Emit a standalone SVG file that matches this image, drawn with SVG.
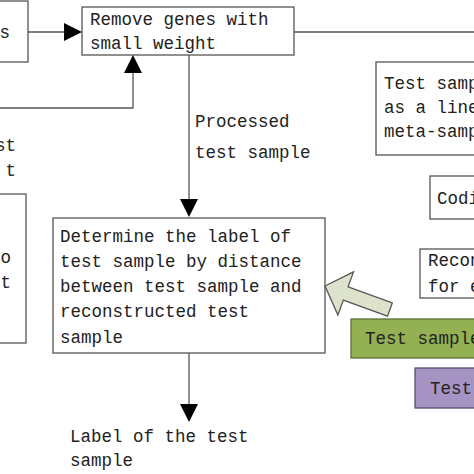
<svg xmlns="http://www.w3.org/2000/svg" width="474" height="474" viewBox="0 0 474 474">
<style>
.box{fill:#fff;stroke:#555;stroke-width:1.3}
.t{font-family:"Liberation Mono",monospace;font-size:17.5px;fill:#222}
.ln{fill:none;stroke:#555;stroke-width:1.3}
.ah{fill:#000}
</style>
<rect width="474" height="474" fill="#fff"/>
<g id="node-left-top">
<rect class="box" x="-10" y="1" width="38" height="61"/>
<text class="t" x="10" y="38" text-anchor="end">s</text>
</g>
<g id="node-remove">
<rect class="box" x="82" y="7" width="212" height="48"/>
<text class="t" x="90" y="25">Remove genes with</text>
<text class="t" x="90" y="49">small weight</text>
</g>
<g id="label-left-test">
<text class="t" x="16" y="151" text-anchor="end">st</text>
<text class="t" x="16" y="176" text-anchor="end">t</text>
</g>
<g id="node-left-mid">
<rect class="box" x="-10" y="194" width="36" height="149"/>
<text class="t" x="11" y="263" text-anchor="end">o</text>
<text class="t" x="11" y="288" text-anchor="end">t</text>
</g>
<g id="label-processed">
<text class="t" x="195" y="127">Processed</text>
<text class="t" x="195" y="158">test sample</text>
</g>
<g id="node-determine">
<rect class="box" x="53" y="218" width="272" height="135"/>
<text class="t" x="60" y="242">Determine the label of</text>
<text class="t" x="60" y="267">test sample by distance</text>
<text class="t" x="60" y="292">between test sample and</text>
<text class="t" x="60" y="317">reconstructed test</text>
<text class="t" x="60" y="343">sample</text>
</g>
<g id="label-output">
<text class="t" x="70" y="442">Label of the test</text>
<text class="t" x="70" y="466">sample</text>
</g>
<g id="node-linear">
<rect class="box" x="376" y="62" width="110" height="93"/>
<text class="t" x="384" y="89">Test sample</text>
<text class="t" x="384" y="113">as a linear</text>
<text class="t" x="384" y="137">meta-sample</text>
</g>
<g id="node-coding">
<rect class="box" x="430" y="176" width="60" height="43"/>
<text class="t" x="437" y="204">Coding</text>
</g>
<g id="node-recon">
<rect class="box" x="420" y="249" width="70" height="49"/>
<text class="t" x="428" y="266">Reconstruct</text>
<text class="t" x="428" y="292">for each</text>
</g>
<g id="node-green">
<rect x="351" y="319" width="140" height="39" fill="#93b152" stroke="#5d6f35" stroke-width="1.3"/>
<text class="t" x="365" y="344" fill="#1c2a0e">Test sample</text>
</g>
<g id="node-purple">
<rect x="415" y="368" width="80" height="40" fill="#a593c3" stroke="#55506a" stroke-width="1.3"/>
<text class="t" x="430" y="394">Test</text>
</g>
<g id="connectors">
<line class="ln" x1="28" y1="32" x2="66" y2="32"/>
<polygon class="ah" points="82,32 64,23 64,41"/>
<line class="ln" x1="294" y1="32" x2="474" y2="32"/>
<polyline class="ln" points="0,108 133,108 133,71"/>
<polygon class="ah" points="133,55 124,73 142,73"/>
<line class="ln" x1="189" y1="55" x2="189" y2="201"/>
<polygon class="ah" points="189,217 180,199 198,199"/>
<line class="ln" x1="189" y1="353" x2="189" y2="406"/>
<polygon class="ah" points="189,422 180,404 198,404"/>
<polygon points="325,286 353.5,271.9 348.1,286.9 392.3,302.9 387.5,316.1 343.3,300.1 337.9,315.1" fill="#dde3cb" stroke="#555" stroke-width="1.3" stroke-linejoin="miter"/>
</g>
</svg>
